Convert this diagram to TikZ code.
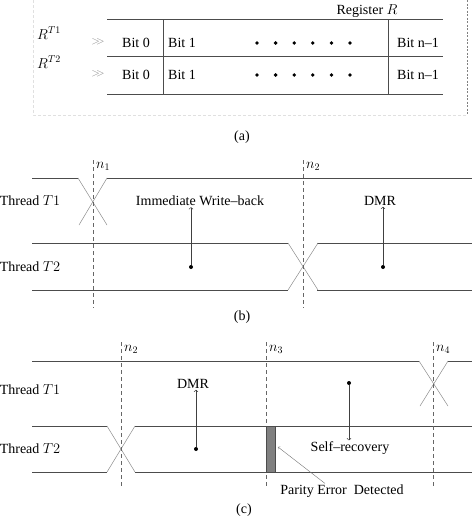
\documentclass[tikz,border=0pt]{standalone}
\usepackage{amsmath}
\usepackage{fontspec}
\setmainfont{Liberation Serif}

\begin{document}
\begin{tikzpicture}[x=1pt, y=-1pt,
    wire/.style={black!70, line width=0.7pt},
    cross/.style={black!45, line width=0.5pt},
    marker/.style={black!60, dash pattern=on 4pt off 3pt, line width=0.6pt},
    lbl/.style={font=\fontsize{14}{16}\selectfont, inner sep=1pt},
    dot/.style={circle, fill=black, inner sep=0pt, minimum size=4pt},
    sig/.style={->, black!75, line width=0.6pt}]
    \useasboundingbox (0,0) rectangle (474,517);

    % (a) Register layout
    \draw[black!12, dash pattern=on 3pt off 2pt] (33,0) -- (33,115) -- (467,115);
    \draw[black!50, dash pattern=on 2pt off 1.5pt, line width=0.6pt] (467,0) -- (467,115);

    \draw[wire] (107,19) -- (443,19);
    \draw[wire] (107,56) -- (443,56);
    \draw[wire] (107,94) -- (443,94);
    \draw[wire] (163,19) -- (163,94);
    \draw[wire] (388,19) -- (388,94);

    \node[lbl] (reg) at (367,11) {Register $R$};
    \node[lbl] (r1) at (49,33) {$R^{T1}$};
    \node[lbl] (r2) at (49,62) {$R^{T2}$};

    \foreach \y in {43,75} {
        \node[text=black!45, font=\fontsize{11}{12}\selectfont] at (98,\y-1) {$>\!\!>$};
        \node[lbl] at (136,\y) {Bit 0};
        \node[lbl, anchor=west] at (167,\y) {Bit 1};
        \node[lbl] at (418,\y) {Bit n--1};
        \foreach \i in {0,...,5}
            \fill (257+18.6*\i,\y) circle (1.9pt);
    }
    \node[lbl] (capa) at (242,137) {(a)};

    % (b) Immediate write-back
    \draw[wire] (32,178) -- (78,178);
    \draw[wire] (107,178) -- (472,178);
    \draw[cross] (78,178) -- (107,225);
    \draw[cross] (107,178) -- (79,225);
    \draw[wire] (32,243) -- (288,243);
    \draw[wire] (32,290) -- (288,290);
    \draw[wire] (317,243) -- (472,243);
    \draw[wire] (317,290) -- (472,290);
    \draw[cross] (288,243) -- (318,290);
    \draw[cross] (288,290) -- (318,243);

    \draw[marker] (93,160) -- (93,308);
    \draw[marker] (303,160) -- (303,308);
    \node[lbl, anchor=west] (n1) at (95,166) {$n_1$};
    \node[lbl, anchor=west] (n2b) at (305,166) {$n_2$};

    \node[lbl] (t1b) at (30,201) {Thread $T1$};
    \node[lbl] (t2b) at (30,267) {Thread $T2$};
    \node[lbl] (iwb) at (200,201) {Immediate Write--back};
    \node[lbl] (dmrb) at (380,201) {DMR};

    \node[dot] (d1) at (191,267) {};
    \node[dot] (d2) at (383,267) {};
    \draw[sig] (d1) -- (d1 |- iwb.south);
    \draw[sig] (d2) -- (d2 |- dmrb.south);
    \node[lbl] (capb) at (242,317) {(b)};

    % (c) Parity error and self-recovery
    \draw[wire] (32,361) -- (419,361);
    \draw[wire] (448,361) -- (472,361);
    \draw[cross] (419,361) -- (448,406);
    \draw[cross] (448,361) -- (420,406);
    \draw[wire] (32,426) -- (107,426);
    \draw[wire] (32,472) -- (107,472);
    \draw[wire] (135,426) -- (472,426);
    \draw[wire] (135,472) -- (472,472);
    \draw[cross] (107,426) -- (135,472);
    \draw[cross] (135,426) -- (107,472);

    \draw[marker] (121,342) -- (121,488);
    \draw[marker] (266,342) -- (266,488);
    \draw[marker] (433,342) -- (433,488);
    \node[lbl, anchor=west] (n2c) at (123,349) {$n_2$};
    \node[lbl, anchor=west] (n3) at (268,349) {$n_3$};
    \node[lbl, anchor=west] (n4) at (435,349) {$n_4$};

    \node[lbl] (t1c) at (30,390) {Thread $T1$};
    \node[lbl] (t2c) at (30,449) {Thread $T2$};
    \node[lbl] (dmrc) at (193,384) {DMR};
    \node[lbl] (rec) at (350,448) {Self--recovery};
    \node[lbl] (par) at (342,491) {Parity Error\ \ Detected};

    % Parity error marker
    \filldraw[fill=black!50, draw=black!70] (266,426) rectangle (275,472);
    \coordinate (bar) at (278,447);

    \node[dot] (d3) at (196,449) {};
    \node[dot] (d4) at (349,383) {};
    \draw[sig] (d3) -- (d3 |- dmrc.south);
    \draw[sig] (d4) -- (d4 |- rec.north);
    \draw[->, black!55, line width=0.4pt] (par.north -| 325,0) -- (bar);
    \node[lbl] (capc) at (244,510) {(c)};

\end{tikzpicture}
\end{document}
